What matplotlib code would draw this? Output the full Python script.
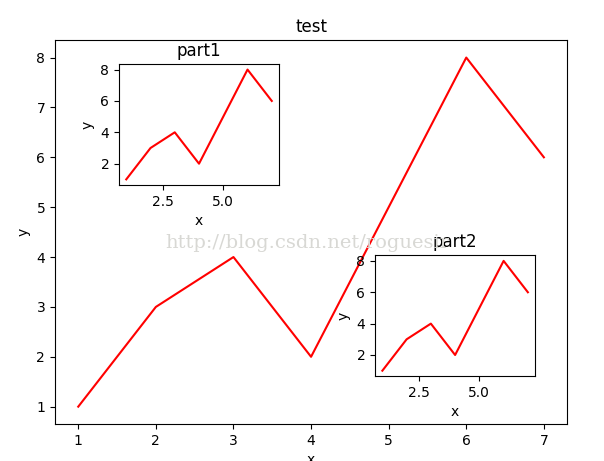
import matplotlib
matplotlib.use("Agg")
import matplotlib.pyplot as plt

x = [1, 2, 3, 4, 5, 6, 7]
y = [1, 3, 4, 2, 5, 8, 6]

fig = plt.figure(figsize=(6.04, 4.61), dpi=100)

# main axes
ax1 = fig.add_axes([0.091, 0.08, 0.848, 0.833])
ax1.plot(x, y, 'r')
ax1.set_xlabel('x')
ax1.set_ylabel('y')
ax1.set_title('test')

# watermark
fig.text(0.273, 0.462, 'http://blog.csdn.net/roguesir', fontsize=14,
         family='DejaVu Serif', color='#d8d8d4', zorder=0)

# inset 1
ax2 = fig.add_axes([0.197, 0.599, 0.265, 0.262])
ax2.plot(x, y, 'r')
ax2.set_xlabel('x')
ax2.set_ylabel('y')
ax2.set_title('part1')

# inset 2
ax3 = fig.add_axes([0.621, 0.184, 0.265, 0.262])
ax3.plot(x, y, 'r')
ax3.set_xlabel('x')
ax3.set_ylabel('y')
ax3.set_title('part2')

fig.savefig('out.png', dpi=100)
